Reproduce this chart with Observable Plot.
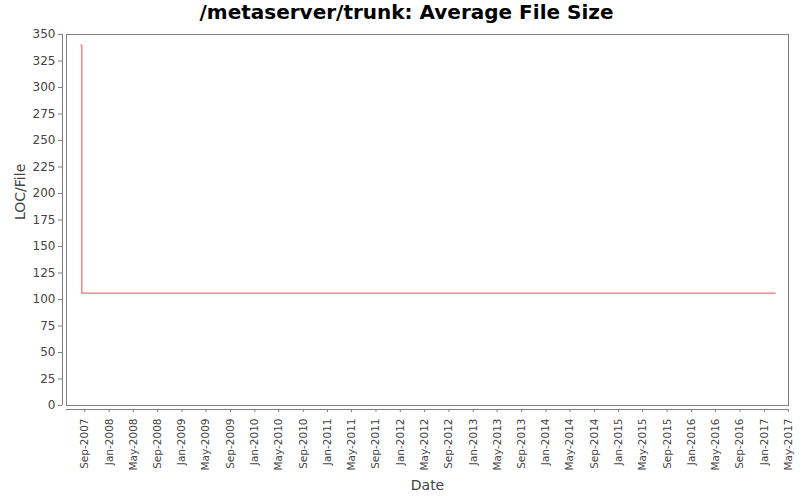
<!DOCTYPE html>
<html>
<head>
<meta charset="utf-8">
<script src="https://cdn.jsdelivr.net/npm/d3@7"></script>
<script src="https://cdn.jsdelivr.net/npm/@observablehq/plot@0.6"></script>
<style>
  html, body { margin: 0; padding: 0; background: #fff; }
  #chart svg { display: block; }
</style>
</head>
<body>
<div id="chart"></div>
<script>
// ---- data ----
const titleText = "/metaserver/trunk: Average File Size";
const xLabel = "Date";
const yLabel = "LOC/File";
const dates = ["2007-08-12", "2007-08-17", "2017-02-25"];
const values = [340, 106, 106];
const yTicks = [0, 25, 50, 75, 100, 125, 150, 175, 200, 225, 250, 275, 300, 325, 350];
const xTickLabels = ["Sep-2007","Jan-2008","May-2008","Sep-2008","Jan-2009","May-2009","Sep-2009","Jan-2010","May-2010","Sep-2010","Jan-2011","May-2011","Sep-2011","Jan-2012","May-2012","Sep-2012","Jan-2013","May-2013","Sep-2013","Jan-2014","May-2014","Sep-2014","Jan-2015","May-2015","Sep-2015","Jan-2016","May-2016","Sep-2016","Jan-2017","May-2017"];
const xDomain = ["2007-06-01", "2017-05-02"];

// ---- build ----
const parse = d3.utcParse("%Y-%m-%d");
const parseTick = d3.utcParse("%b-%Y");
const fmt = d3.utcFormat("%b-%Y");
const data = dates.map((d, i) => ({date: parse(d), value: values[i]}));
const xTicks = xTickLabels.map(s => parseTick(s));

const grey = "#808080";
const textCol = "#444444";

const chart = Plot.plot({
  width: 800,
  height: 500,
  marginLeft: 66,
  marginRight: 12,
  marginTop: 34,
  marginBottom: 95,
  style: {fontFamily: "DejaVu Sans", background: "#fff"},
  x: {type: "utc", domain: xDomain.map(parse), axis: null},
  y: {domain: [0, 350], axis: null},
  marks: [
    Plot.frame({stroke: grey}),
    Plot.ruleX([parse(xDomain[0])], {dx: -4, stroke: grey}),
    Plot.ruleY([0], {dy: 4, stroke: grey}),
    Plot.axisY({ticks: yTicks, tickSize: 4, tickPadding: 3, dx: -4, fontSize: 12, color: textCol, stroke: grey, label: null}),
    Plot.axisX({ticks: xTicks, tickFormat: fmt, tickSize: 3, tickPadding: 6, dy: 4, tickRotate: -90, fontSize: 10.5, color: textCol, stroke: grey, label: null}),
    Plot.line(data, {x: "date", y: "value", stroke: "#e05252", strokeWidth: 1, curve: "step-after"}),
    Plot.text([yLabel], {frameAnchor: "left", dx: -46, rotate: -90, fontSize: 14, fill: textCol, lineAnchor: "middle"}),
    Plot.text([xLabel], {frameAnchor: "bottom", dy: 80, fontSize: 14, fill: textCol, lineAnchor: "middle"}),
    Plot.text([titleText], {frameAnchor: "top", dx: -21, dy: -22, fontSize: 20, fontWeight: "bold", fill: "#000", lineAnchor: "middle"})
  ]
});
document.getElementById("chart").appendChild(chart);
</script>
</body>
</html>
